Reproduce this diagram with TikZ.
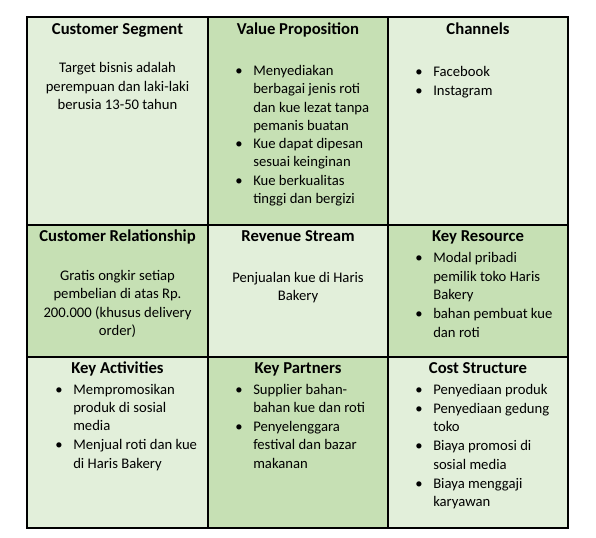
\documentclass[tikz,border=0pt]{standalone}
\usepackage{fontspec}
\setmainfont{Carlito}
\definecolor{lightg}{HTML}{E2EFDA}
\definecolor{darkg}{HTML}{C6E0B4}
\newcommand\bitem{\makebox[0pt][r]{\textbullet\hspace{8pt}}}
\newcommand\lines[1]{\begin{tabular}[t]{@{}c@{}}#1\end{tabular}}
\newcommand\llines[1]{\begin{tabular}[t]{@{}l@{}}#1\end{tabular}}
\tikzset{
  head/.style={font=\fontsize{12.5}{14}\selectfont\bfseries, anchor=base, inner sep=0pt},
  body/.style={font=\fontsize{11}{13.7}\selectfont, anchor=base, inner sep=0pt},
  blist/.style={font=\fontsize{11}{13.7}\selectfont, anchor=base west, inner sep=0pt},
  grid/.style={line width=0.9pt, black},
}
\begin{document}
\begin{tikzpicture}[x=0.75pt,y=-0.75pt]
\useasboundingbox (0,0) rectangle (596,538);
\fill[white] (0,0) rectangle (596,538);
% cells
\fill[lightg] (27,17) rectangle (208,225);
\fill[darkg]  (208,17) rectangle (388,225);
\fill[lightg] (388,17) rectangle (568,225);
\fill[darkg]  (27,225) rectangle (208,357);
\fill[lightg] (208,225) rectangle (388,357);
\fill[darkg]  (388,225) rectangle (568,357);
\fill[lightg] (27,357) rectangle (208,528);
\fill[darkg]  (208,357) rectangle (388,528);
\fill[lightg] (388,357) rectangle (568,528);
% grid
\draw[grid] (27,17) rectangle (568,528);
\draw[grid] (208,17) -- (208,528);
\draw[grid] (388,17) -- (388,528);
\draw[grid] (27,225) -- (568,225);
\draw[grid] (27,357) -- (568,357);
% row 1
\node[head] (h1) at (117.5,35) {Customer Segment};
\node[head] (h2) at (298,35) {Value Proposition};
\node[head] (h3) at (478,35) {Channels};
\node[body] (b1) at (117.5,73) {\lines{Target bisnis adalah\\perempuan dan laki-laki\\berusia 13-50 tahun}};
\node[blist] (b2) at (253,75.5) {\llines{\bitem Menyediakan\\berbagai jenis roti\\dan kue lezat tanpa\\pemanis buatan\\\bitem Kue dapat dipesan\\sesuai keinginan\\\bitem Kue berkualitas\\tinggi dan bergizi}};
\node[blist] (b3) at (433,77) {\llines{\bitem Facebook\\\bitem Instagram}};
% row 2
\node[head] (h4) at (117.5,242) {Customer Relationship};
\node[head] (h5) at (298,242) {Revenue Stream};
\node[head] (h6) at (478,242) {Key Resource};
\node[body] (b4) at (117.5,280.5) {\lines{Gratis ongkir setiap\\pembelian di atas Rp.\\200.000 (khusus delivery\\order)}};
\node[body] (b5) at (298,282) {\lines{Penjualan kue di Haris\\Bakery}};
\node[blist] (b6) at (433,263) {\llines{\bitem Modal pribadi\\pemilik toko Haris\\Bakery\\[0.8pt]\bitem bahan pembuat kue\\dan roti}};
% row 3
\node[head] (h7) at (117.5,373) {Key Activities};
\node[head] (h8) at (298,373) {Key Partners};
\node[head] (h9) at (478,373) {Cost Structure};
\node[blist] (b7) at (73,394) {\llines{\bitem Mempromosikan\\produk di sosial\\media\\[0.8pt]\bitem Menjual roti dan kue\\di Haris Bakery}};
\node[blist] (b8) at (253,394) {\llines{\bitem Supplier bahan-\\bahan kue dan roti\\[0.8pt]\bitem Penyelenggara\\festival dan bazar\\makanan}};
\node[blist] (b9) at (433,394) {\llines{\bitem Penyediaan produk\\[0.8pt]\bitem Penyediaan gedung\\toko\\[0.8pt]\bitem Biaya promosi di\\sosial media\\[0.8pt]\bitem Biaya menggaji\\karyawan}};
\end{tikzpicture}
\end{document}
